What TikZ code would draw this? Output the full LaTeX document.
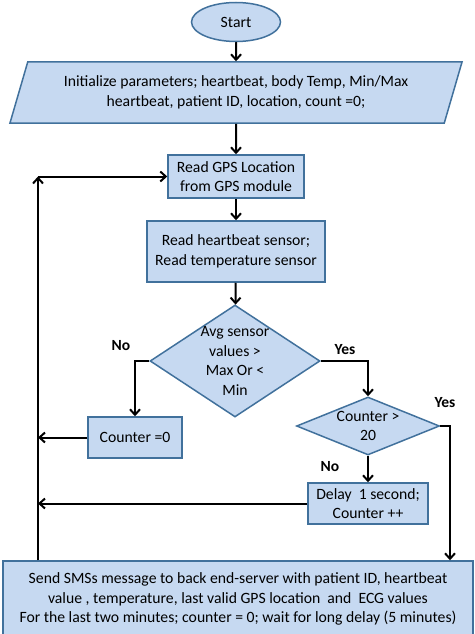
\documentclass[tikz,border=0pt]{standalone}
\usepackage{fontspec}
\setmainfont{Carlito}
\usetikzlibrary{shapes.geometric,arrows.meta}
\definecolor{boxfill}{HTML}{C6D9F1}
\definecolor{boxline}{HTML}{41719C}
\begin{document}
\begin{tikzpicture}[
    x=1pt, y=-1pt,
    font=\fontsize{15.7}{19.5}\selectfont,
    box/.style={rectangle, draw=boxline, fill=boxfill, line width=1.5pt, align=center, inner sep=0pt},
    term/.style={ellipse, draw=boxline, fill=boxfill, line width=1.5pt, inner sep=0pt},
    para/.style={trapezium, trapezium left angle=66, trapezium right angle=114, trapezium stretches=true, draw=boxline, fill=boxfill, line width=1.5pt, align=center, inner sep=0pt},
    dec/.style={diamond, draw=boxline, fill=boxfill, line width=1.5pt, inner sep=0pt},
    txt/.style={align=center, inner sep=0pt},
    lbl/.style={font=\fontsize{15.5}{17}\selectfont\bfseries},
    arr/.style={-{Straight Barb[length=5.5pt,width=10pt]}, line width=2pt, black}
]
\useasboundingbox (0,0) rectangle (474,634);

\node[term, minimum width=89pt, minimum height=39pt] (start) at (236,22) {Start};
\node[para, minimum width=453pt, minimum height=61pt] (init) at (236,92.5) {Initialize parameters; heartbeat, body Temp, Min/Max\\heartbeat, patient ID, location, count =0;};
\node[box, minimum width=136pt, minimum height=43pt] (gps) at (236,176.5) {Read GPS Location\\from GPS module};
\node[box, minimum width=178pt, minimum height=61pt] (sensor) at (236,251.5) {Read heartbeat sensor;\\Read temperature sensor};
\node[dec, minimum width=170pt, minimum height=112pt] (avg) at (235,361) {};
\node[txt] at (avg) {Avg sensor\\values >\\Max Or <\\Min};
\node[box, minimum width=94pt, minimum height=41pt] (cnt0) at (135,437.5) {Counter =0};
\node[dec, minimum width=143pt, minimum height=58pt] (cnt20) at (368,426) {};
\node[txt] at (cnt20) {Counter >\\20};
\node[box, minimum width=120pt, minimum height=41pt] (delay) at (368,503.5) {Delay~ 1 second;\\Counter ++};
\node[box, minimum width=470pt, minimum height=76pt] (sms) at (238,599) {Send SMSs message to back end-server with patient ID, heartbeat\\value , temperature, last valid GPS location~ and~ ECG values\\For the last two minutes; counter = 0; wait for long delay (5 minutes)};

% branch labels
\node[lbl] (no1) at (121,346) {No};
\node[lbl] (yes1) at (345,350) {Yes};
\node[lbl] (yes2) at (445,403) {Yes};
\node[lbl] (no2) at (330,467) {No};

\coordinate (loop) at (38,176.5);
\coordinate (yesx) at (450,0);

\draw[arr] (start) -- (init);
\draw[arr] (init) -- (gps);
\draw[arr] (gps) -- (sensor);
\draw[arr] (sensor) -- (avg);
\draw[arr] (avg.west) -| (cnt0.north);
\draw[arr] (avg.east) -| (cnt20.north);
\draw[arr] (cnt20.east) -| (sms.north -| yesx);
\draw[arr] (cnt20) -- (delay);
\draw[arr] (cnt0.west) -- (cnt0.west -| loop);
\draw[arr] (delay.west) -- (delay.west -| loop);
\draw[arr] (sms.north -| loop) -- (loop);
\draw[arr] (loop) -- (gps.west);
\end{tikzpicture}
\end{document}
